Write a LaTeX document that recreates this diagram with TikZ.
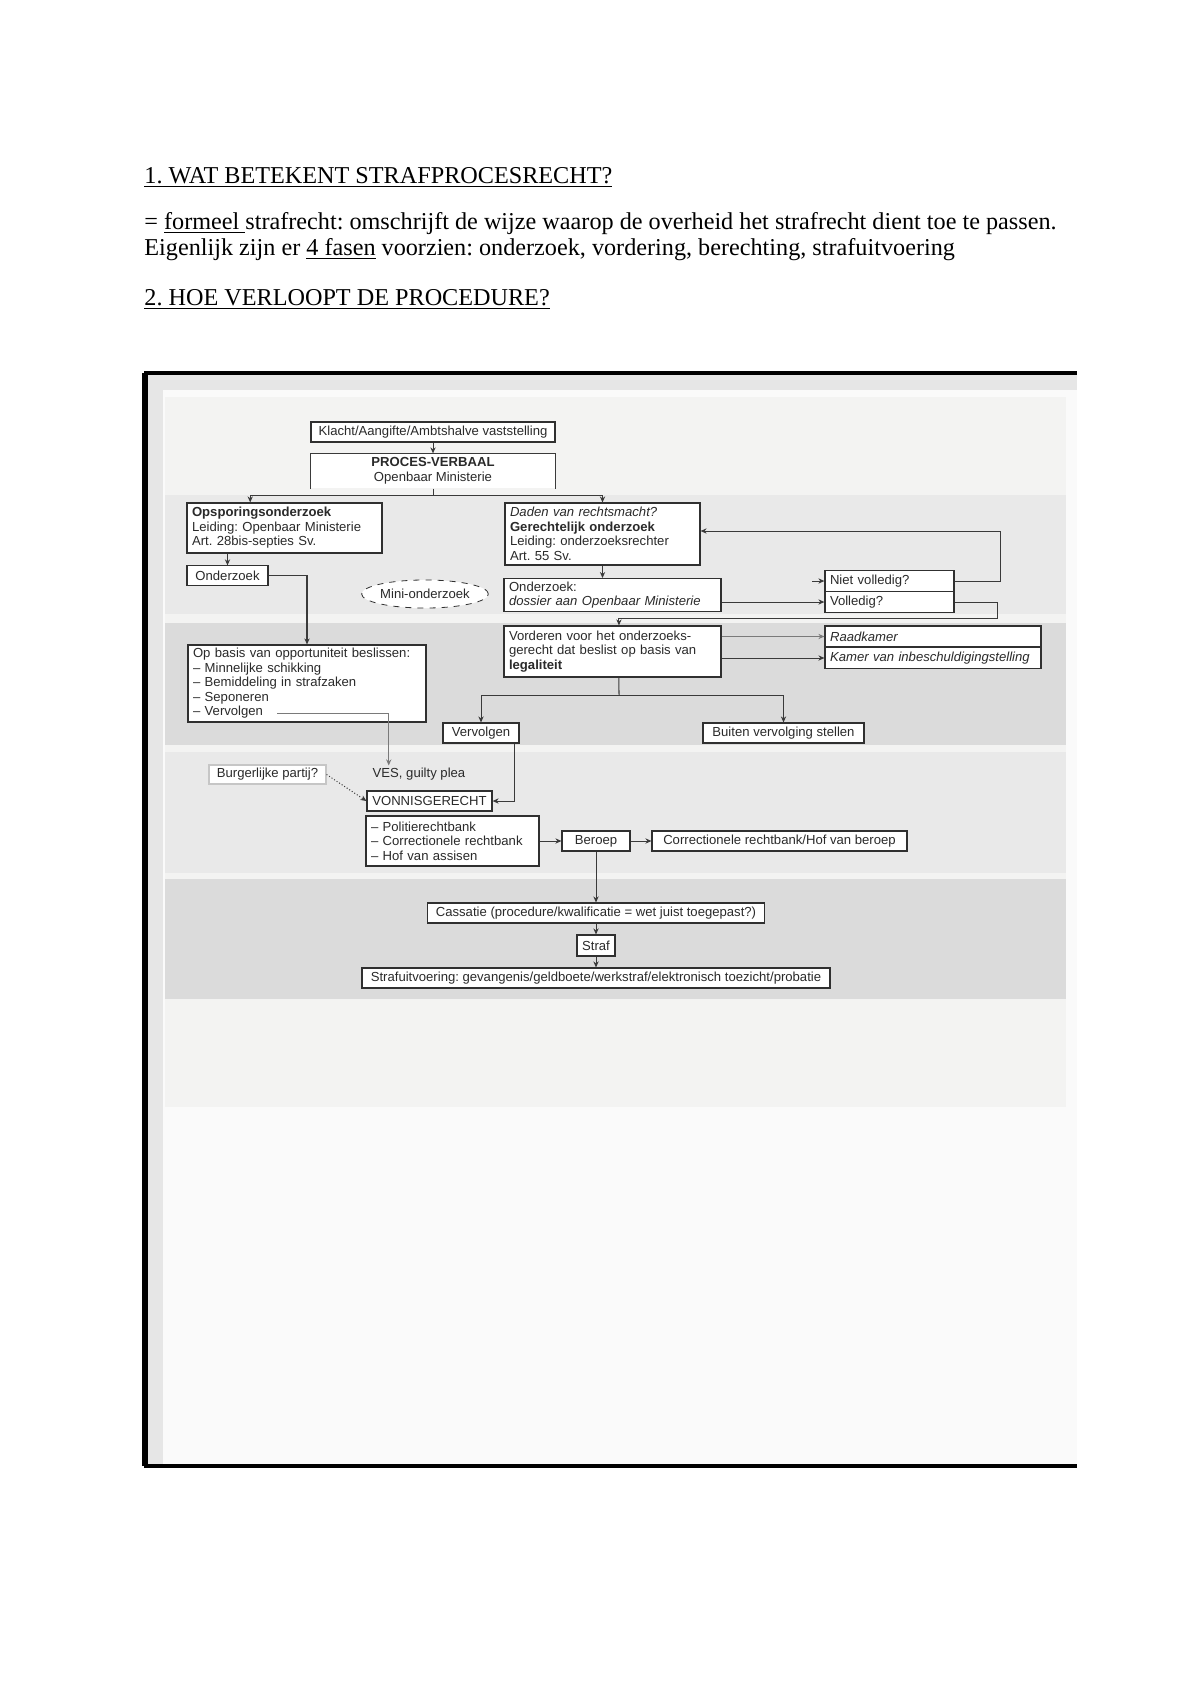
\documentclass[tikz,border=0pt]{standalone}
\usepackage{fontspec}
\setmainfont{Liberation Serif}
\newfontfamily\schemafont{Liberation Sans}
\usetikzlibrary{arrows.meta,shapes.geometric}
\frenchspacing

\definecolor{ink}{HTML}{2A2A2A}
\definecolor{boxline}{HTML}{303030}
\definecolor{linkcol}{HTML}{3A3A3A}
\definecolor{linkfaint}{HTML}{7A7A7A}
\definecolor{scangray}{HTML}{E6E6E6}
\definecolor{sheet}{HTML}{FAFAFA}
\definecolor{pagecol}{HTML}{F3F3F2}
\definecolor{bandlight}{HTML}{E9E9E9}
\definecolor{banddark}{HTML}{DBDBDB}

\begin{document}
\begin{tikzpicture}[x=0.4958pt,y=-0.4958pt,
    box/.style={draw=boxline,fill=white,line width=0.55pt,text=ink,
      font=\schemafont\fontsize{6.5}{7.2}\selectfont,inner xsep=2.5pt,inner ysep=1.5pt},
    multi/.style={box,align=left},
    link/.style={draw=linkcol,line width=0.5pt},
    arr/.style={link,-{Stealth[length=3pt,width=2.6pt]}},
    head/.style={anchor=base west,inner sep=0pt,font=\fontsize{12}{14}\selectfont}]

    % page and scan
    \fill[white] (0,0) rectangle (1200,1698);
    \useasboundingbox (0,0) rectangle (1200,1698);
    \fill[scangray] (145,373) rectangle (1077,1466);
    \fill[sheet] (163,390) rectangle (1077,1466);
    \fill[pagecol] (165,397) rectangle (1066,1107);
    \fill[bandlight] (165,495) rectangle (1066,614);
    \fill[banddark] (165,623) rectangle (1066,745);
    \fill[bandlight] (165,752) rectangle (1066,873);
    \fill[banddark] (165,879) rectangle (1066,999);
    \draw[black,line width=2.5pt] (145,1466) -- (145,373);
    \draw[black,line width=1.6pt] (144,373) -- (1077,373);
    \draw[black,line width=1.6pt] (144,1466) -- (1077,1466);

    % text above the scheme
    \node[head] (t1) at (144,183) {\underline{1. WAT BETEKENT STRAFPROCESRECHT?}};
    \node[head] (t2) at (144,229) {= \underline{formeel\ }strafrecht: omschrijft de wijze waarop de overheid het strafrecht dient toe te passen.};
    \node[head] (t3) at (144,255) {Eigenlijk zijn er \underline{4 fasen} voorzien: onderzoek, vordering, berechting, strafuitvoering};
    \node[head] (t4) at (144,305) {\underline{2. HOE VERLOOPT DE PROCEDURE?}};

    % scheme
    \node[box,minimum width=121pt,minimum height=9.9pt] (klacht) at (433,432) {Klacht/Aangifte/Ambtshalve vaststelling};
    \node[box,draw=none,minimum width=121pt,minimum height=16.9pt,align=center] (pv) at (433,471) {\textbf{PROCES-VERBAAL}\\Openbaar Ministerie};
    \draw[link] (pv.south west) -- (pv.north west) -- (pv.north east) -- (pv.south east);

    \node[multi,text width=91.7pt,minimum height=24.8pt] (opsp) at (284.5,528) {\textbf{Opsporingsonderzoek}\\Leiding: Openbaar Ministerie\\Art. 28bis-septies Sv.};
    \node[box,minimum width=40.2pt,minimum height=9.5pt] (onderz1) at (227.5,575.5) {Onderzoek};
    \node[ellipse,draw=boxline,dashed,fill=white,minimum width=60.5pt,minimum height=13.9pt,inner sep=0pt,
      text=ink,font=\schemafont\fontsize{6.5}{7.2}\selectfont] (mini) at (425,594) {Mini-onderzoek};

    \node[multi,text width=91.7pt,minimum height=30.7pt] (daden) at (602.5,534) {\textit{Daden van rechtsmacht?}\\\textbf{Gerechtelijk onderzoek}\\Leiding: onderzoeksrechter\\Art. 55 Sv.};
    \node[multi,text width=102.6pt,minimum height=15.9pt] (onderz2) at (612.5,595) {Onderzoek:\\\textit{dossier aan Openbaar Ministerie}};
    \node[multi,text width=59pt,minimum height=10.4pt] (niet) at (889.5,581) {Niet volledig?};
    \node[multi,text width=59pt,minimum height=10.4pt] (vol) at (889.5,602) {Volledig?};

    \node[multi,text width=102.6pt,minimum height=25.3pt] (vorderen) at (612.5,651.5) {Vorderen voor het onderzoeks-\\gerecht dat beslist op basis van\\\textbf{legaliteit}};
    \node[multi,text width=102.1pt,minimum height=10.4pt] (raad) at (933,636.5) {\textit{Raadkamer}};
    \node[multi,text width=102.1pt,minimum height=10.4pt] (kamer) at (933,658) {\textit{Kamer van inbeschuldigingstelling}};
    \node[box,minimum width=37.7pt,minimum height=9.9pt] (verv2) at (481,733) {Vervolgen};
    \node[box,minimum width=79.8pt,minimum height=9.9pt] (buiten) at (783.5,733) {Buiten vervolging stellen};

    \node[multi,text width=113pt,minimum height=38.2pt] (opbasis) at (307,683.5) {Op basis van opportuniteit beslissen:\\– Minnelijke schikking\\– Bemiddeling in strafzaken\\– Seponeren\\– Vervolgen};
    \node[inner sep=1pt,text=ink,font=\schemafont\fontsize{6.5}{7.2}\selectfont] (ves) at (419,774) {VES, guilty plea};
    \node[box,draw=gray!45,minimum width=58pt,minimum height=9.4pt] (burger) at (267.5,774.5) {Burgerlijke partij?};
    \node[box,minimum width=62pt,minimum height=9.9pt] (vonnis) at (429.5,801) {VONNISGERECHT};

    \node[multi,text width=80.8pt,minimum height=24.8pt] (politie) at (452.5,841) {– Politierechtbank\\– Correctionele rechtbank\\– Hof van assisen};
    \node[box,minimum width=33.7pt,minimum height=9.9pt] (beroep) at (596,841) {Beroep};
    \node[box,minimum width=126.4pt,minimum height=9.9pt] (correct) at (779.5,841) {Correctionele rechtbank/Hof van beroep};
    \node[box,minimum width=167pt,minimum height=9.9pt] (cassatie) at (596,913) {Cassatie (procedure/kwalificatie = wet juist toegepast?)};
    \node[box,minimum width=18.8pt,minimum height=10.4pt] (straf) at (596,945.5) {Straf};
    \node[box,minimum width=232pt,minimum height=9.9pt] (strafuit) at (596,978) {Strafuitvoering: gevangenis/geldboete/werkstraf/elektronisch toezicht/probatie};

    % connectors
    \draw[arr] (klacht) -- (pv);
    \coordinate (split) at (433,495);
    \draw[link] (pv.south) -- (split);
    \draw[arr] (split) -| ([xshift=-17pt]opsp.north);
    \draw[arr] (split) -| (daden.north);
    \draw[arr] (onderz1.north |- opsp.south) -- (onderz1.north);
    \draw[arr] (onderz1.east) -| (opbasis.north);
    \draw[arr] (daden.south) -- (daden.south |- onderz2.north);
    \coordinate (nietin) at (812,581);
    \draw[arr] (nietin) -- (niet.west);
    \draw[arr] (onderz2.east |- vol.west) -- (vol.west);
    \coordinate (loopR) at (1000,531);
    \draw[arr] (niet.east) -| (loopR) -- (loopR -| daden.east);
    \coordinate (volR) at (997,618);
    \draw[arr] (vol.east) -| (volR) -| ([xshift=3.2pt]vorderen.north);
    \draw[arr,draw=linkfaint] (vorderen.east |- raad.west) -- (raad.west);
    \draw[arr] (vorderen.east |- kamer.west) -- (kamer.west);
    \coordinate (split2) at (619,695);
    \draw[link] ([xshift=3.2pt]vorderen.south) -- (split2);
    \draw[arr] (split2) -| (verv2.north);
    \draw[arr] (split2) -| (buiten.north);
    \coordinate (vervend) at (277,713);
    \draw[arr,draw=linkfaint] (vervend) -| ([xshift=-15pt]ves.north);
    \draw[arr,densely dotted] (burger.east) -- (vonnis.west);
    \draw[arr] ([xshift=16.4pt]verv2.south) |- (vonnis.east);
    \foreach \from/\to in {politie/beroep,beroep/correct,beroep/cassatie,cassatie/straf,straf/strafuit}
        \draw[arr] (\from) -- (\to);
\end{tikzpicture}
\end{document}
